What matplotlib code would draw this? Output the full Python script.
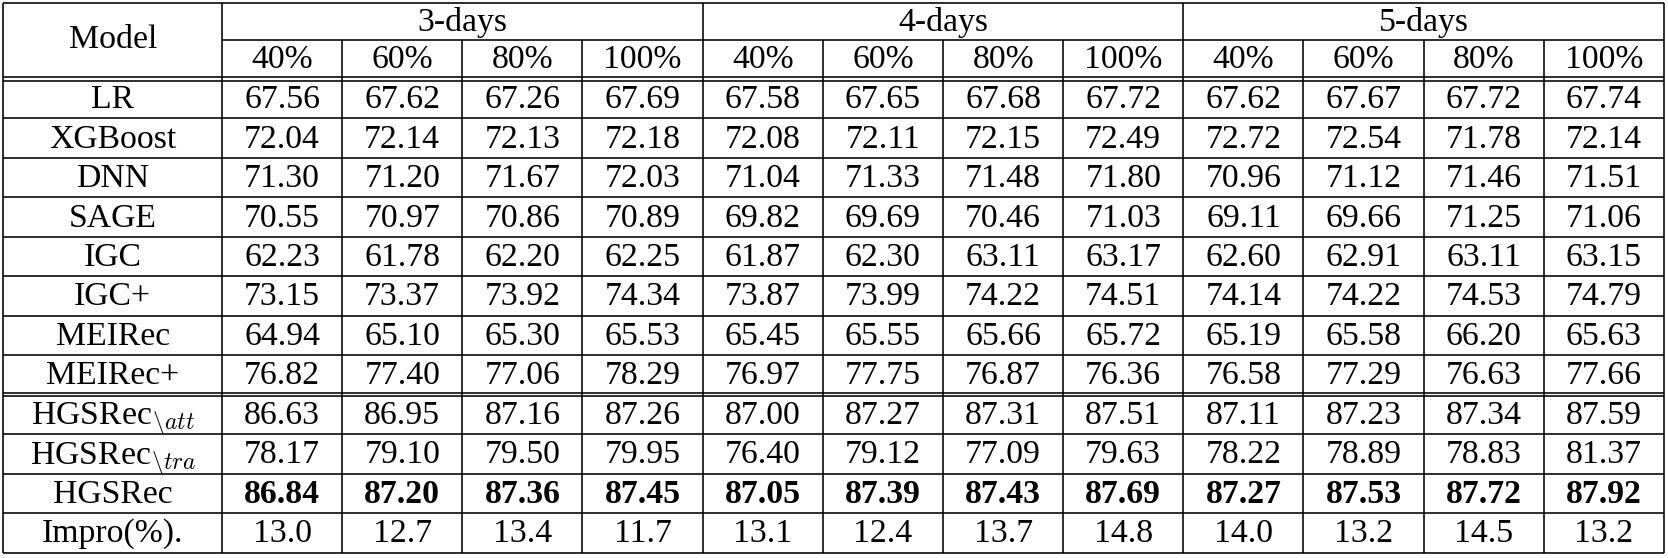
import matplotlib
matplotlib.use("Agg")
import matplotlib.pyplot as plt

plt.rcParams['font.family'] = ['Liberation Serif', 'DejaVu Serif']
plt.rcParams['mathtext.fontset'] = 'cm'

groups = ["3-days", "4-days", "5-days"]
ratios = ["40%", "60%", "80%", "100%"]
models = ["LR", "XGBoost", "DNN", "SAGE", "IGC", "IGC+", "MEIRec", "MEIRec+",
          r"HGSRec$_{\backslash att}$", r"HGSRec$_{\backslash tra}$", "HGSRec", "Impro(%)."]

lr = ["67.56", "67.62", "67.26", "67.69", "67.58", "67.65", "67.68", "67.72", "67.62", "67.67", "67.72", "67.74"]
xgboost = ["72.04", "72.14", "72.13", "72.18", "72.08", "72.11", "72.15", "72.49", "72.72", "72.54", "71.78", "72.14"]
dnn = ["71.30", "71.20", "71.67", "72.03", "71.04", "71.33", "71.48", "71.80", "70.96", "71.12", "71.46", "71.51"]
sage = ["70.55", "70.97", "70.86", "70.89", "69.82", "69.69", "70.46", "71.03", "69.11", "69.66", "71.25", "71.06"]
igc = ["62.23", "61.78", "62.20", "62.25", "61.87", "62.30", "63.11", "63.17", "62.60", "62.91", "63.11", "63.15"]
igc_plus = ["73.15", "73.37", "73.92", "74.34", "73.87", "73.99", "74.22", "74.51", "74.14", "74.22", "74.53", "74.79"]
meirec = ["64.94", "65.10", "65.30", "65.53", "65.45", "65.55", "65.66", "65.72", "65.19", "65.58", "66.20", "65.63"]
meirec_plus = ["76.82", "77.40", "77.06", "78.29", "76.97", "77.75", "76.87", "76.36", "76.58", "77.29", "76.63", "77.66"]
hgs_att = ["86.63", "86.95", "87.16", "87.26", "87.00", "87.27", "87.31", "87.51", "87.11", "87.23", "87.34", "87.59"]
hgs_tra = ["78.17", "79.10", "79.50", "79.95", "76.40", "79.12", "77.09", "79.63", "78.22", "78.89", "78.83", "81.37"]
hgsrec = ["86.84", "87.20", "87.36", "87.45", "87.05", "87.39", "87.43", "87.69", "87.27", "87.53", "87.72", "87.92"]
impro = ["13.0", "12.7", "13.4", "11.7", "13.1", "12.4", "13.7", "14.8", "14.0", "13.2", "14.5", "13.2"]

rows = [lr, xgboost, dnn, sage, igc, igc_plus, meirec, meirec_plus, hgs_att, hgs_tra, hgsrec, impro]
bold_row = 10
double_after = [7]  # \hline\hline under MEIRec+

W, H = 1668, 558
fig = plt.figure(figsize=(W / 100, H / 100), dpi=100)
ax = fig.add_axes([0, 0, 1, 1])
ax.set_xlim(0, W)
ax.set_ylim(H, 0)
ax.axis("off")

# layout in pixels
x0, xm, x1 = 3.5, 222, 1664
ncol = len(groups) * len(ratios)
cw = (x1 - xm) / ncol
col_edges = [xm + i * cw for i in range(ncol + 1)]
y_top, y_mid, y_hdr = 2.5, 40, 79
nrow = len(rows)
y_bot = 552.5
rh = (y_bot - y_hdr) / nrow
row_edges = [y_hdr + i * rh for i in range(nrow + 1)]

lw = 1.15
gap = 1.6
fs = 24.3
kw = dict(color="black", lw=lw, solid_capstyle="butt")

# horizontal lines
ax.plot([x0, x1], [y_top, y_top], **kw)
ax.plot([xm, x1], [y_mid, y_mid], **kw)
ax.plot([x0, x1], [y_hdr - gap, y_hdr - gap], **kw)
ax.plot([x0, x1], [y_hdr + gap, y_hdr + gap], **kw)
for i, y in enumerate(row_edges[1:]):
    if i in double_after:
        ax.plot([x0, x1], [y - gap, y - gap], **kw)
        ax.plot([x0, x1], [y + gap, y + gap], **kw)
    else:
        ax.plot([x0, x1], [y, y], **kw)

# vertical lines
ax.plot([x0, x0], [y_top, y_bot], **kw)
ax.plot([xm, xm], [y_top, y_bot], **kw)
for i, x in enumerate(col_edges[1:], start=1):
    if i % len(ratios) == 0:
        ax.plot([x, x], [y_top, y_bot], **kw)
    else:
        ax.plot([x, x], [y_mid, y_bot], **kw)

# header text
ax.text((x0 + xm) / 2, 48.5, "Model", ha="center", va="baseline", fontsize=fs)
for g, name in enumerate(groups):
    cx = (col_edges[g * 4] + col_edges[g * 4 + 4]) / 2
    ax.text(cx, 31.5, name, ha="center", va="baseline", fontsize=fs)
    for j, r in enumerate(ratios):
        k = g * 4 + j
        ax.text((col_edges[k] + col_edges[k + 1]) / 2, 68.5, r,
                ha="center", va="baseline", fontsize=fs)

# body
for i, (m, vals) in enumerate(zip(models, rows)):
    by = row_edges[i] + 0.74 * rh
    ax.text((x0 + xm) / 2, by, m, ha="center", va="baseline", fontsize=fs)
    for k, v in enumerate(vals):
        ax.text((col_edges[k] + col_edges[k + 1]) / 2, by, v, ha="center", va="baseline",
                fontsize=fs, fontweight="bold" if i == bold_row else "normal")

fig.savefig("out.png", dpi=100, facecolor="white")
